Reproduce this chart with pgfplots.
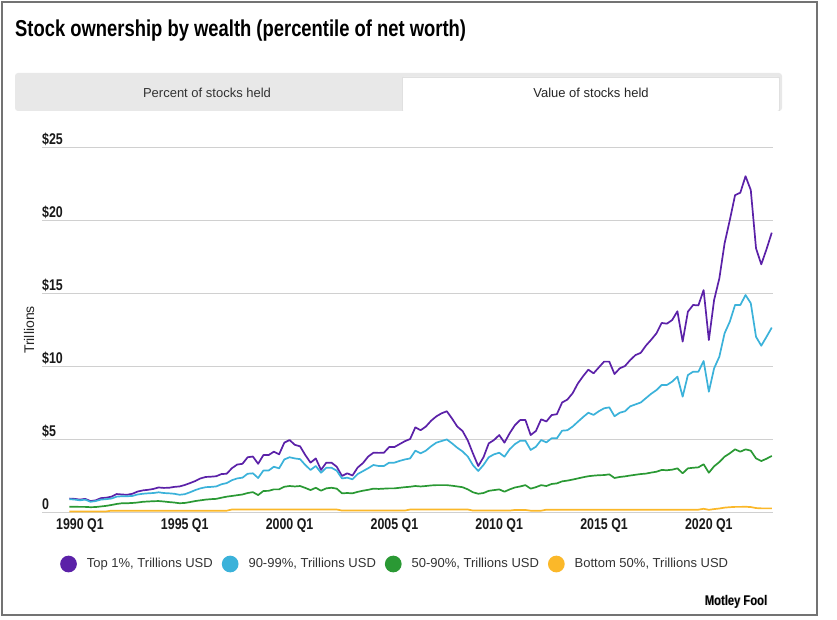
\documentclass[border=0pt]{standalone}
\usepackage{fontspec}
\setmainfont{Liberation Sans}
\newfontfamily\narrowfont{Liberation Sans}[FakeStretch=0.8]
\usepackage{pgfplots}
\pgfplotsset{compat=1.18}
\usepackage{pgfplotstable}

\definecolor{topc}{HTML}{5B21A8}
\definecolor{upperc}{HTML}{3BB2DA}
\definecolor{middlec}{HTML}{2A9934}
\definecolor{bottomc}{HTML}{FBB829}
\definecolor{gridc}{HTML}{D0D0D0}
\definecolor{tabc}{HTML}{E8E8E8}

% quarterly values, trillions USD (t = year, Q1 = .00)
\pgfplotstableread{
t top upper middle bottom
1989.50 0.92 0.88 0.36 0.04
1989.75 0.90 0.85 0.36 0.04
1990.00 0.85 0.80 0.35 0.04
1990.25 0.90 0.85 0.35 0.04
1990.50 0.75 0.70 0.33 0.04
1990.75 0.80 0.75 0.34 0.04
1991.00 0.95 0.85 0.38 0.04
1991.25 0.98 0.88 0.42 0.04
1991.50 1.05 0.92 0.48 0.09
1991.75 1.23 1.05 0.55 0.09
1992.00 1.20 1.08 0.60 0.09
1992.25 1.18 1.08 0.60 0.09
1992.50 1.25 1.10 0.62 0.09
1992.75 1.40 1.20 0.65 0.09
1993.00 1.48 1.25 0.70 0.09
1993.25 1.52 1.28 0.72 0.09
1993.50 1.58 1.30 0.74 0.09
1993.75 1.68 1.35 0.75 0.09
1994.00 1.65 1.30 0.72 0.09
1994.25 1.66 1.28 0.68 0.09
1994.50 1.72 1.25 0.65 0.09
1994.75 1.75 1.18 0.60 0.09
1995.00 1.85 1.22 0.62 0.09
1995.25 1.98 1.35 0.68 0.09
1995.50 2.12 1.50 0.75 0.09
1995.75 2.30 1.62 0.80 0.09
1996.00 2.40 1.70 0.85 0.09
1996.25 2.42 1.72 0.88 0.09
1996.50 2.45 1.75 0.90 0.09
1996.75 2.60 1.90 0.98 0.09
1997.00 2.62 1.98 1.05 0.09
1997.25 3.00 2.18 1.10 0.17
1997.50 3.25 2.30 1.15 0.17
1997.75 3.30 2.35 1.20 0.17
1998.00 3.75 2.62 1.30 0.17
1998.25 3.80 2.65 1.36 0.17
1998.50 3.30 2.33 1.16 0.17
1998.75 3.90 2.84 1.44 0.17
1999.00 3.90 2.84 1.45 0.17
1999.25 4.13 3.10 1.55 0.17
1999.50 3.95 2.99 1.55 0.17
1999.75 4.75 3.60 1.73 0.17
2000.00 4.93 3.75 1.78 0.17
2000.25 4.60 3.67 1.75 0.17
2000.50 4.50 3.62 1.78 0.17
2000.75 3.90 3.22 1.65 0.17
2001.00 3.38 2.88 1.50 0.17
2001.25 3.67 3.15 1.66 0.17
2001.50 2.88 2.69 1.46 0.17
2001.75 3.38 3.03 1.62 0.17
2002.00 3.38 3.03 1.66 0.17
2002.25 3.10 2.83 1.60 0.17
2002.50 2.47 2.30 1.28 0.10
2002.75 2.65 2.35 1.30 0.10
2003.00 2.50 2.24 1.28 0.10
2003.25 3.05 2.60 1.38 0.10
2003.50 3.35 2.80 1.46 0.10
2003.75 3.80 3.00 1.52 0.10
2004.00 4.06 3.22 1.60 0.10
2004.25 4.05 3.15 1.58 0.10
2004.50 4.06 3.15 1.60 0.10
2004.75 4.45 3.38 1.62 0.10
2005.00 4.45 3.38 1.62 0.10
2005.25 4.65 3.50 1.66 0.10
2005.50 4.85 3.60 1.70 0.10
2005.75 5.00 3.67 1.73 0.17
2006.00 5.80 4.20 1.78 0.17
2006.25 5.60 4.02 1.75 0.17
2006.50 5.85 4.20 1.78 0.17
2006.75 6.25 4.50 1.82 0.17
2007.00 6.55 4.75 1.84 0.17
2007.25 6.76 4.86 1.84 0.17
2007.50 6.90 4.97 1.84 0.17
2007.75 6.40 4.70 1.80 0.17
2008.00 5.85 4.40 1.75 0.17
2008.25 5.55 4.15 1.70 0.17
2008.50 4.90 3.80 1.55 0.17
2008.75 4.00 3.20 1.35 0.10
2009.00 3.15 2.81 1.25 0.10
2009.25 3.75 3.22 1.30 0.10
2009.50 4.70 3.75 1.45 0.10
2009.75 4.93 3.95 1.50 0.10
2010.00 5.27 4.06 1.55 0.10
2010.25 4.75 3.79 1.39 0.10
2010.50 5.40 4.30 1.55 0.10
2010.75 5.95 4.65 1.68 0.14
2011.00 6.30 4.88 1.75 0.14
2011.25 6.30 4.88 1.84 0.14
2011.50 5.27 4.25 1.60 0.09
2011.75 5.55 4.47 1.70 0.09
2012.00 6.35 4.93 1.84 0.09
2012.25 6.20 4.77 1.78 0.16
2012.50 6.64 5.05 1.92 0.16
2012.75 6.70 5.05 1.96 0.16
2013.00 7.50 5.57 2.10 0.16
2013.25 7.70 5.60 2.15 0.16
2013.50 8.13 5.85 2.22 0.16
2013.75 8.80 6.18 2.30 0.16
2014.00 9.30 6.50 2.38 0.16
2014.25 9.75 6.80 2.45 0.16
2014.50 9.50 6.65 2.49 0.16
2014.75 9.90 6.90 2.52 0.16
2015.00 10.30 7.10 2.53 0.16
2015.25 10.30 7.17 2.58 0.16
2015.50 9.45 6.56 2.33 0.16
2015.75 9.84 6.80 2.40 0.16
2016.00 10.00 6.90 2.44 0.16
2016.25 10.41 7.24 2.50 0.16
2016.50 10.75 7.37 2.55 0.16
2016.75 10.90 7.50 2.60 0.16
2017.00 11.40 7.80 2.63 0.16
2017.25 11.80 8.10 2.70 0.16
2017.50 12.24 8.35 2.76 0.16
2017.75 12.95 8.70 2.88 0.16
2018.00 12.90 8.70 2.86 0.16
2018.25 13.15 8.93 2.90 0.16
2018.50 13.75 9.27 2.99 0.16
2018.75 11.67 7.90 2.65 0.16
2019.00 13.72 9.38 2.99 0.16
2019.25 14.18 9.61 3.03 0.16
2019.50 14.15 9.61 3.06 0.16
2019.75 15.20 10.34 3.27 0.22
2020.00 11.78 8.24 2.69 0.15
2020.25 14.52 9.84 3.13 0.20
2020.50 16.00 10.64 3.42 0.24
2020.75 18.40 12.24 3.79 0.30
2021.00 20.00 13.04 4.02 0.33
2021.25 21.70 14.18 4.29 0.35
2021.50 21.87 14.18 4.13 0.35
2021.75 23.00 14.86 4.29 0.36
2022.00 22.05 14.30 4.20 0.34
2022.25 18.06 12.00 3.67 0.27
2022.50 16.96 11.39 3.49 0.25
2022.75 18.00 12.00 3.65 0.25
2023.00 19.13 12.63 3.84 0.25
}\wealth

\begin{document}
\begin{tikzpicture}
\useasboundingbox (0,0) rectangle (837pt,619pt);
\fill[white] (0,0) rectangle (837pt,619pt);
\draw[black!55, line width=1.5pt] (2pt,4pt) rectangle (817pt,617pt);

% title
\node[anchor=base west, inner sep=0pt] at (15pt,582pt)
  {\narrowfont\fontsize{23}{23}\selectfont\bfseries Stock ownership by wealth (percentile of net worth)};

% tabs
\fill[tabc, rounded corners=3pt] (15pt,508pt) rectangle (782pt,546pt);
\fill[white, rounded corners=2pt] (402pt,508pt) rectangle (779pt,542pt);
\draw[black!12, line width=0.8pt] (402pt,508pt) -- (402pt,542pt) -- (779pt,542pt) -- (779pt,508pt);
\node[text=black!80] at (207pt,526pt) {\fontsize{13}{13}\selectfont Percent of stocks held};
\node[text=black!85] at (591pt,526pt) {\fontsize{13}{13}\selectfont Value of stocks held};

% y label
\node[rotate=90, text=black!85] at (29pt,289pt) {\fontsize{14}{14}\selectfont Trillions};

\begin{axis}[
  at={(42pt,107pt)}, anchor=south west,
  scale only axis, width=731pt, height=365pt,
  xmin=1988.19, xmax=2023.06,
  ymin=0, ymax=25,
  axis line style={draw=none},
  major tick length=0pt,
  ymajorgrids=true,
  grid style={gridc, line width=0.9pt},
  xtick={1990,1995,2000,2005,2010,2015,2020},
  xticklabels={1990 Q1,1995 Q1,2000 Q1,2005 Q1,2010 Q1,2015 Q1,2020 Q1},
  ytick={0,5,10,15,20,25},
  yticklabels={0,\$5,\$10,\$15,\$20,\$25},
  xticklabel style={font=\narrowfont\fontsize{15.5}{15.5}\selectfont\bfseries, text=black!90, yshift=-3pt},
  yticklabel style={font=\narrowfont\fontsize{15.5}{15.5}\selectfont\bfseries, text=black!90,
                    anchor=base west, inner sep=0pt, xshift=0pt, yshift=3pt},
  legend columns=4,
  legend image code/.code={\fill[#1] (0pt,0pt) circle (7.5pt);},
  legend style={at={(0.0205,-0.1425)}, anchor=west, draw=none, fill=none,
                font=\fontsize{13}{13}\selectfont, text=black!80,
                /tikz/every odd column/.append style={column sep=8pt},
                /tikz/every even column/.append style={column sep=7pt}},
  legend cell align=left,
  every axis plot/.append style={line width=1.7pt, line join=round},
]
\addplot[topc] table[x=t, y=top] {\wealth};
\addplot[upperc] table[x=t, y=upper] {\wealth};
\addplot[middlec] table[x=t, y=middle] {\wealth};
\addplot[bottomc] table[x=t, y=bottom] {\wealth};
\legend{Top 1\%{,} Trillions USD, 90-99\%{,} Trillions USD, 50-90\%{,} Trillions USD, Bottom 50\%{,} Trillions USD}
\end{axis}

\node[anchor=base, inner sep=0pt, text=black!35] at (736.8pt,13.2pt)
  {\narrowfont\fontsize{14}{14}\selectfont\bfseries Motley Fool};
\node[anchor=base, inner sep=0pt] at (736pt,14pt)
  {\narrowfont\fontsize{14}{14}\selectfont\bfseries Motley Fool};
\end{tikzpicture}
\end{document}
